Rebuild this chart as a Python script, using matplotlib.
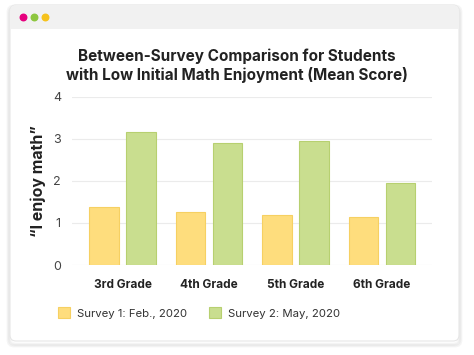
import numpy as np
import matplotlib
matplotlib.use('Agg')
import matplotlib.pyplot as plt
from matplotlib.patches import FancyBboxPatch, Rectangle

grades = ['3rd Grade', '4th Grade', '5th Grade', '6th Grade']
survey1 = [1.38, 1.25, 1.20, 1.14]
survey2 = [3.17, 2.89, 2.95, 1.95]
labels = ['Survey 1: Feb., 2020', 'Survey 2: May, 2020']
yticks = [0, 1, 2, 3, 4]

yel, yel_edge = '#fedd7d', '#f6d062'
grn, grn_edge = '#c9de8f', '#b7d070'

plt.rcParams['font.family'] = ['Inter', 'DejaVu Sans']

W, H = 474, 355
fig = plt.figure(figsize=(W / 100, H / 100), dpi=100)
fig.patch.set_facecolor('white')

# window frame drawn in pixel coords
bg = fig.add_axes([0, 0, 1, 1])
bg.set_xlim(0, W); bg.set_ylim(H, 0); bg.axis('off')
for i, a in enumerate([0.03, 0.03, 0.04]):
    bg.add_patch(FancyBboxPatch((10 - i, 6 - i + 2), 449 + 2 * i, 336 + 2 * i,
                                boxstyle='round,pad=0,rounding_size=6',
                                fc='none', ec='black', lw=2, alpha=a))
bg.add_patch(FancyBboxPatch((10, 5), 449, 336, boxstyle='round,pad=0,rounding_size=6',
                            fc='white', ec='#e6e6e6', lw=0.8))
bg.add_patch(FancyBboxPatch((10, 5), 449, 24, boxstyle='round,pad=0,rounding_size=6',
                            fc='#f1f1f1', ec='none'))
bg.add_patch(Rectangle((10, 20), 449, 9, fc='#f1f1f1', ec='none'))
for x, c in zip([23, 34, 45], ['#e6007e', '#8dc63f', '#f6c21c']):
    bg.scatter(x, 16.5, s=22, color=c, zorder=5)

fig.text(237 / W, 1 - 66 / H, 'Between-Survey Comparison for Students\nwith Low Initial Math Enjoyment (Mean Score)',
         ha='center', va='center', fontsize=11, fontweight='bold', color='#222222', linespacing=1.25)

ax = fig.add_axes([72 / W, 1 - 265 / H, 360 / W, 168.3 / H])
ax.set_facecolor('none')
x = np.arange(len(grades))
w = 0.345
off = 0.214
ax.bar(x - off, survey1, w, color=yel, edgecolor=yel_edge, linewidth=0.8, zorder=3, label=labels[0])
ax.bar(x + off, survey2, w, color=grn, edgecolor=grn_edge, linewidth=0.8, zorder=3, label=labels[1])
ax.set_xlim(-0.584, 3.578)
ax.set_ylim(0, 4)
ax.set_yticks(yticks)
ax.set_yticklabels([str(t) for t in yticks], color='#444444', fontsize=9)
ax.yaxis.grid(True, color='#ebebeb', lw=0.8, zorder=0)
ax.set_axisbelow(True)
ax.set_xticks(x)
ax.set_xticklabels(grades, fontweight='bold', fontsize=8.5, color='#222222')
ax.tick_params(length=0)
ax.tick_params(axis='y', pad=8)
ax.tick_params(axis='x', pad=10)
for s in ax.spines.values():
    s.set_visible(False)
ax.set_ylabel('\u201cI enjoy math\u201d', fontsize=11.5, fontweight='bold', color='#222222', labelpad=5)

leg = ax.legend(loc='upper left', bbox_to_anchor=(-0.068, -0.19), ncol=2, frameon=False,
                fontsize=8.2, handlelength=1.1, handleheight=1.1, columnspacing=1.9, handletextpad=0.6)
for t in leg.get_texts():
    t.set_color('#333333')

fig.savefig('out.png', dpi=100, facecolor='white')
